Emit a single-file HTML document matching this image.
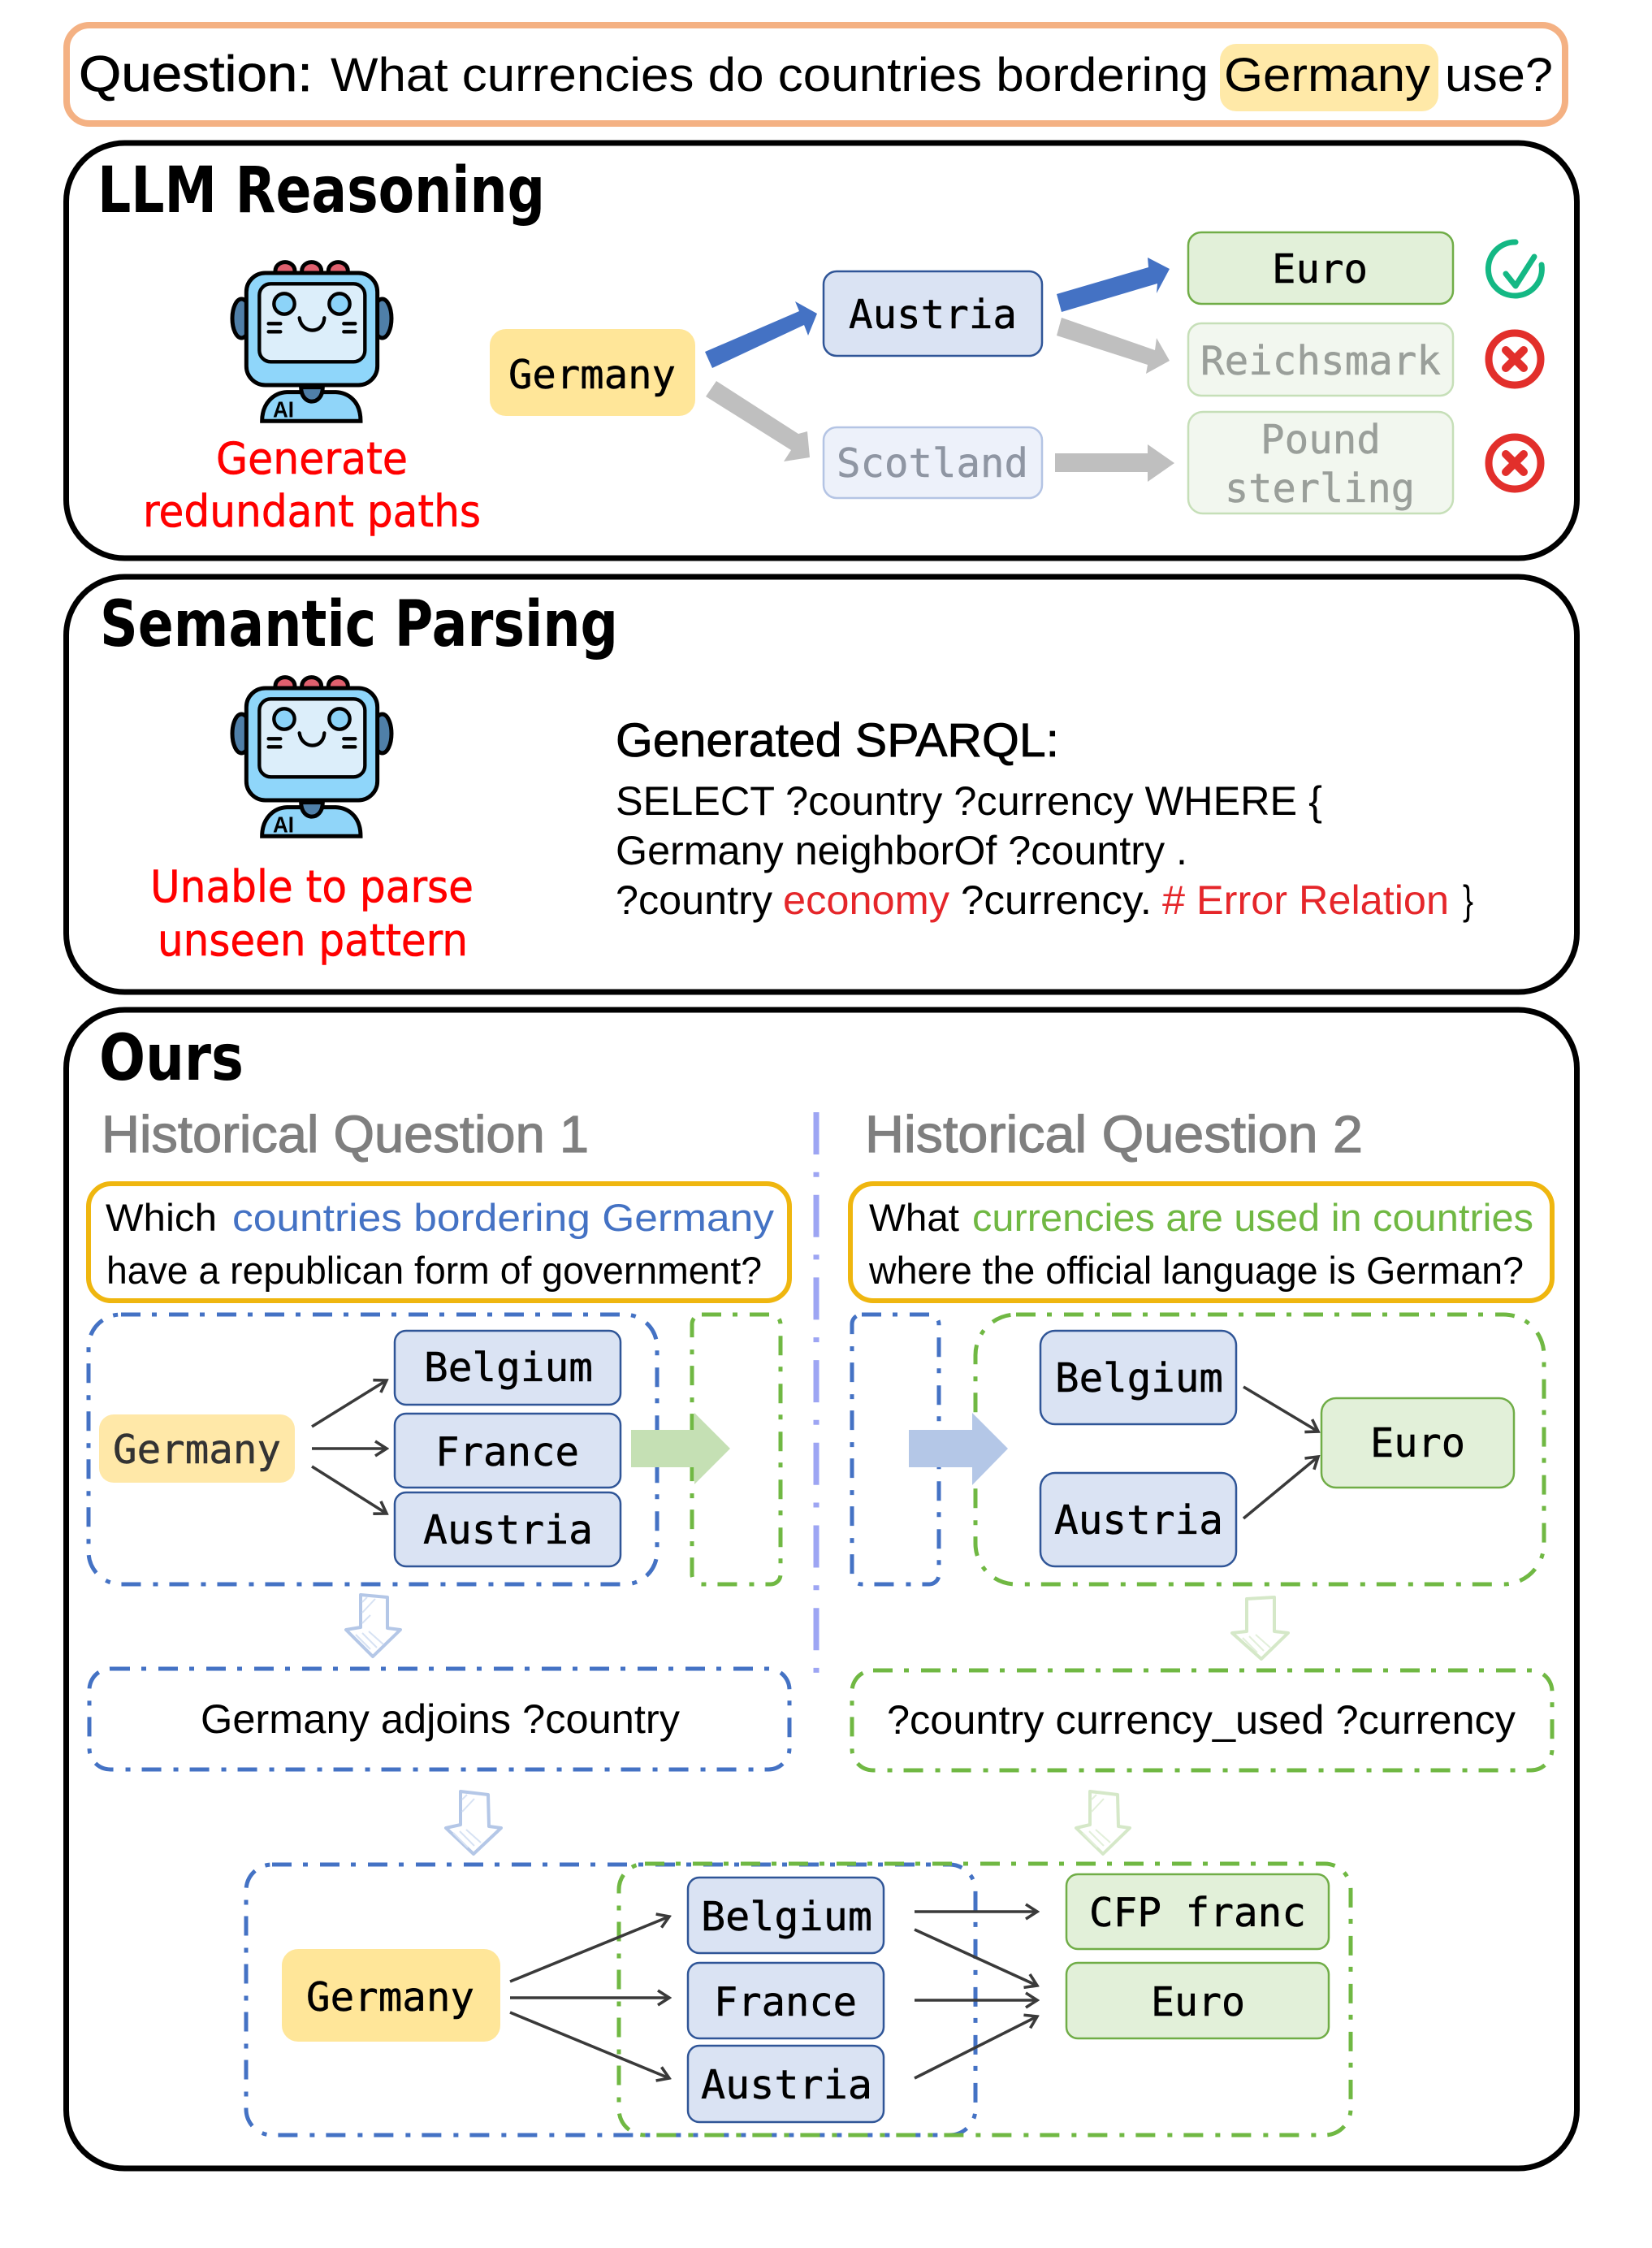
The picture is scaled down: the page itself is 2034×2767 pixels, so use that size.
<!DOCTYPE html>
<html><head><meta charset="utf-8"><style>
html,body{margin:0;padding:0;background:#fff;width:2034px;height:2767px;overflow:hidden}
svg{display:block}
text{font-family:"Liberation Sans",sans-serif}
.m{font-family:"DejaVu Sans Mono","Liberation Mono",monospace;font-size:49px;stroke:currentColor;stroke-width:.5}
.h{font-family:"DejaVu Sans","Liberation Sans",sans-serif;font-weight:bold;font-size:78px}
.r{font-family:"DejaVu Sans","Liberation Sans",sans-serif;font-size:54px;fill:#f00;stroke:#f00;stroke-width:.6}
.gh{font-size:64px;fill:#7f7f7f;stroke:#7f7f7f;stroke-width:1.2}
.blue{fill:#dae3f3;stroke:#2f5597;stroke-width:2.5}
.green{fill:#e2f0d9;stroke:#70ad47;stroke-width:2.5}
.db{fill:none;stroke:#4472c4;stroke-width:5;stroke-dasharray:24 14 6 15}
.dg{fill:none;stroke:#70b843;stroke-width:5;stroke-dasharray:24 14 6 15}
.a{fill:none;stroke:#3a3a3a;stroke-width:3.6;marker-end:url(#ah)}
</style></head><body>
<svg xmlns="http://www.w3.org/2000/svg" width="2034" height="2767" viewBox="0 0 2034 2767">
<defs>
<marker id="ah" markerUnits="userSpaceOnUse" viewBox="0 0 24 24" refX="21" refY="12" markerWidth="24" markerHeight="24" orient="auto"><path d="M7,3 L21,12 L7,21" fill="none" stroke="#3a3a3a" stroke-width="3.6"/></marker>
</defs>

<!-- Question -->
<rect x="82" y="31" width="1845" height="121" rx="28" fill="#fff" stroke="#f4b183" stroke-width="8"/>
<rect x="1502" y="54" width="269" height="83" rx="20" fill="#ffe9a8"/>
<text x="97" y="112" font-size="62" textLength="288" lengthAdjust="spacingAndGlyphs" stroke="#000" stroke-width=".7">Question:</text>
<text x="407" y="112" font-size="58" textLength="1081" lengthAdjust="spacingAndGlyphs">What currencies do countries bordering</text>
<text x="1507" y="112" font-size="58" textLength="254" lengthAdjust="spacingAndGlyphs">Germany</text>
<text x="1779" y="112" font-size="58" textLength="133" lengthAdjust="spacingAndGlyphs">use?</text>

<!-- LLM -->
<rect x="81.5" y="176" width="1860" height="511" rx="72" fill="#fff" stroke="#000" stroke-width="7"/>
<text class="h" x="120" y="261" textLength="551" lengthAdjust="spacingAndGlyphs">LLM Reasoning</text>

<g transform="translate(240,300) scale(.3333)" stroke="#000" stroke-width="15" stroke-linecap="round">
<ellipse cx="172" cy="276" rx="34" ry="72" fill="#4f7fa8"/><ellipse cx="692" cy="276" rx="34" ry="72" fill="#4f7fa8"/>
<ellipse cx="333" cy="100" rx="36" ry="32" fill="#e0606e"/><ellipse cx="431" cy="100" rx="36" ry="32" fill="#e0606e"/><ellipse cx="529" cy="100" rx="36" ry="32" fill="#e0606e"/>
<path d="M248,655 C248,590 290,550 340,548 L520,548 C560,550 612,575 612,655 Z" fill="#90d5f9"/>
<path d="M392,530 C392,600 472,600 472,530 Z" fill="#4f7fa8"/>
<rect x="190" y="108" width="484" height="414" rx="70" fill="#8fd6fa"/>
<rect x="238" y="148" width="390" height="288" rx="42" fill="#dceefa" stroke-width="13"/>
<circle cx="330" cy="222" r="38" fill="#8cd3f8" stroke-width="13"/><circle cx="534" cy="222" r="38" fill="#8cd3f8" stroke-width="13"/>
<path d="M386,274 C395,335 475,335 478,274" fill="none" stroke-width="13"/>
<path d="M272,295H316M272,325H316M550,295H592M550,325H592" fill="none" stroke-width="13"/>
<text x="288" y="640" font-size="84" font-weight="bold" stroke="none" fill="#000" textLength="78" lengthAdjust="spacingAndGlyphs">AI</text>
</g>

<text class="r" x="266" y="583" textLength="236" lengthAdjust="spacingAndGlyphs">Generate</text>
<text class="r" x="176" y="648" textLength="416" lengthAdjust="spacingAndGlyphs">redundant paths</text>

<rect x="603" y="405" width="253" height="107" rx="20" fill="#ffe699"/>
<text class="m" x="626" y="478" textLength="206" lengthAdjust="spacingAndGlyphs">Germany</text>

<polygon points="868,433 984,383 979,371 1006,386 995,413 990,400 877,453" fill="#4472c4"/>
<polygon points="882,469 983,534 994,531 997,563 965,568 974,554 869,488" fill="#bfbfbf"/>
<rect x="1014" y="334" width="269" height="104" rx="16" class="blue"/>
<text class="m" x="1045" y="404" textLength="207" lengthAdjust="spacingAndGlyphs">Austria</text>
<rect x="1014" y="526" width="269" height="87" rx="16" fill="#edf1fa" stroke="#b4c4e4" stroke-width="2.5"/>
<text class="m" x="1030" y="587" textLength="236" lengthAdjust="spacingAndGlyphs" fill="#8f96a3" color="#8f96a3">Scotland</text>

<polygon points="1301,362 1414,329 1413,317 1440,331 1424,361 1425,349 1307,384" fill="#4472c4"/>
<polygon points="1307,391 1422,431 1424,416 1440,444 1411,460 1413,449 1301,413" fill="#bfbfbf"/>
<polygon points="1299,558 1413,558 1413,547 1446,570 1413,593 1413,581 1299,581" fill="#bfbfbf"/>

<rect x="1463" y="286" width="326" height="88" rx="16" class="green"/>
<text class="m" x="1566" y="348" textLength="118" lengthAdjust="spacingAndGlyphs">Euro</text>
<rect x="1463" y="398" width="326" height="89" rx="16" fill="#f2f7ef" stroke="#c6dfb8" stroke-width="2.5"/>
<text class="m" x="1478" y="461" textLength="296" lengthAdjust="spacingAndGlyphs" fill="#9a9f9a" color="#9a9f9a">Reichsmark</text>
<rect x="1463" y="507" width="326" height="125" rx="18" fill="#f2f7ef" stroke="#c6dfb8" stroke-width="2.5"/>
<text class="m" x="1552" y="558" textLength="148" lengthAdjust="spacingAndGlyphs" fill="#9a9f9a" color="#9a9f9a">Pound</text>
<text class="m" x="1508" y="618" textLength="234" lengthAdjust="spacingAndGlyphs" fill="#9a9f9a" color="#9a9f9a">sterling</text>

<g fill="none" stroke-linecap="round" stroke-linejoin="round">
<path d="M1866,298 A33,33 0 1 0 1898,326" stroke="#14b884" stroke-width="7"/>
<path d="M1854,337 L1866,352 L1889,316" stroke="#14b884" stroke-width="7"/>
<circle cx="1865" cy="442" r="32" stroke="#e22f2b" stroke-width="9"/>
<path d="M1854,431 L1876,453 M1876,431 L1854,453" stroke="#e22f2b" stroke-width="10"/>
<circle cx="1865" cy="570" r="32" stroke="#e22f2b" stroke-width="9"/>
<path d="M1854,559 L1876,581 M1876,559 L1854,581" stroke="#e22f2b" stroke-width="10"/>
</g>

<!-- Semantic -->
<rect x="81.5" y="710" width="1860" height="511" rx="72" fill="#fff" stroke="#000" stroke-width="7"/>
<text class="h" x="123" y="795" textLength="638" lengthAdjust="spacingAndGlyphs">Semantic Parsing</text>

<g transform="translate(240,811) scale(.3333)" stroke="#000" stroke-width="15" stroke-linecap="round">
<ellipse cx="172" cy="276" rx="34" ry="72" fill="#4f7fa8"/><ellipse cx="692" cy="276" rx="34" ry="72" fill="#4f7fa8"/>
<ellipse cx="333" cy="100" rx="36" ry="32" fill="#e0606e"/><ellipse cx="431" cy="100" rx="36" ry="32" fill="#e0606e"/><ellipse cx="529" cy="100" rx="36" ry="32" fill="#e0606e"/>
<path d="M248,655 C248,590 290,550 340,548 L520,548 C560,550 612,575 612,655 Z" fill="#90d5f9"/>
<path d="M392,530 C392,600 472,600 472,530 Z" fill="#4f7fa8"/>
<rect x="190" y="108" width="484" height="414" rx="70" fill="#8fd6fa"/>
<rect x="238" y="148" width="390" height="288" rx="42" fill="#dceefa" stroke-width="13"/>
<circle cx="330" cy="222" r="38" fill="#8cd3f8" stroke-width="13"/><circle cx="534" cy="222" r="38" fill="#8cd3f8" stroke-width="13"/>
<path d="M386,274 C395,335 475,335 478,274" fill="none" stroke-width="13"/>
<path d="M272,295H316M272,325H316M550,295H592M550,325H592" fill="none" stroke-width="13"/>
<text x="288" y="640" font-size="84" font-weight="bold" stroke="none" fill="#000" textLength="78" lengthAdjust="spacingAndGlyphs">AI</text>
</g>

<text class="r" x="185" y="1110" textLength="398" lengthAdjust="spacingAndGlyphs">Unable to parse</text>
<text class="r" x="194" y="1176" textLength="382" lengthAdjust="spacingAndGlyphs">unseen pattern</text>

<text x="758" y="931" font-size="58" textLength="546" lengthAdjust="spacingAndGlyphs" stroke="#000" stroke-width=".8">Generated SPARQL:</text>
<text x="758" y="1003" font-size="50" textLength="870" lengthAdjust="spacingAndGlyphs">SELECT ?country ?currency WHERE {</text>
<text x="758" y="1064" font-size="50" textLength="704" lengthAdjust="spacingAndGlyphs">Germany neighborOf ?country .</text>
<text x="758" y="1125" font-size="50" textLength="193" lengthAdjust="spacingAndGlyphs">?country</text>
<text x="964" y="1125" font-size="50" textLength="205" lengthAdjust="spacingAndGlyphs" fill="#e5262a">economy</text>
<text x="1183" y="1125" font-size="50" textLength="235" lengthAdjust="spacingAndGlyphs">?currency.</text>
<text x="1431" y="1125" font-size="50" textLength="353" lengthAdjust="spacingAndGlyphs" fill="#e5262a"># Error Relation</text>
<text x="1801" y="1125" font-size="50" textLength="13" lengthAdjust="spacingAndGlyphs">}</text>

<!-- Ours -->
<rect x="81.5" y="1243" width="1860" height="1426" rx="72" fill="#fff" stroke="#000" stroke-width="7"/>
<text class="h" x="122" y="1329" textLength="178" lengthAdjust="spacingAndGlyphs">Ours</text>
<text class="gh" x="125" y="1418" textLength="600" lengthAdjust="spacingAndGlyphs">Historical Question 1</text>
<text class="gh" x="1065" y="1418" textLength="613" lengthAdjust="spacingAndGlyphs">Historical Question 2</text>
<line x1="1005" y1="1369" x2="1005" y2="2067" stroke="#9da5f3" stroke-width="7" stroke-dasharray="52 21.7 6 22"/>

<rect x="109" y="1457" width="863" height="144" rx="28" fill="#fff" stroke="#efb60f" stroke-width="6"/>
<text x="130" y="1515" font-size="47" textLength="137" lengthAdjust="spacingAndGlyphs">Which</text>
<text x="286" y="1515" font-size="47" textLength="667" lengthAdjust="spacingAndGlyphs" fill="#4472c4">countries bordering Germany</text>
<text x="131" y="1580" font-size="47" textLength="807" lengthAdjust="spacingAndGlyphs">have a republican form of government?</text>

<rect x="1047" y="1457" width="864" height="144" rx="28" fill="#fff" stroke="#efb60f" stroke-width="6"/>
<text x="1070" y="1515" font-size="47" textLength="111" lengthAdjust="spacingAndGlyphs">What</text>
<text x="1197" y="1515" font-size="47" textLength="691" lengthAdjust="spacingAndGlyphs" fill="#70b843">currencies are used in countries</text>
<text x="1070" y="1580" font-size="47" textLength="806" lengthAdjust="spacingAndGlyphs">where the official language is German?</text>

<!-- HQ1 graph -->
<rect x="109" y="1618" width="700" height="332" rx="40" class="db"/>
<rect x="852" y="1618" width="109" height="332" rx="12" class="dg"/>
<polygon points="777,1760 855,1760 855,1739 899,1783 855,1827 855,1806 777,1806" fill="#c5e0b4"/>
<rect x="122" y="1741" width="241" height="84" rx="18" fill="#ffe8a8"/>
<text class="m" x="139" y="1801" textLength="207" lengthAdjust="spacingAndGlyphs" fill="#333" color="#333">Germany</text>
<rect x="486" y="1638" width="278" height="91" rx="14" class="blue"/>
<text class="m" x="522" y="1700" textLength="208" lengthAdjust="spacingAndGlyphs">Belgium</text>
<rect x="486" y="1740" width="278" height="91" rx="14" class="blue"/>
<text class="m" x="536" y="1804" textLength="177" lengthAdjust="spacingAndGlyphs">France</text>
<rect x="486" y="1837" width="278" height="91" rx="14" class="blue"/>
<text class="m" x="521" y="1900" textLength="209" lengthAdjust="spacingAndGlyphs">Austria</text>
<path class="a" d="M384,1756 L476,1699"/>
<path class="a" d="M384,1783 L476,1783"/>
<path class="a" d="M384,1805 L476,1863"/>

<path d="M444,1963 L477,1966 L477,2004 L493,2006 L459,2039 L426,2006 L444,2003 Z" fill="#fff" stroke="#b4c7e7" stroke-width="4" stroke-linejoin="round"/>
<path d="M438,2012 L456,2030 M446,2010 L464,2028 M454,2008 L472,2024 M446,1972 L452,1966 M446,1985 L462,1968 M446,1998 L456,1988" stroke="#d7e2f3" stroke-width="2" fill="none"/>

<!-- HQ2 graph -->
<rect x="1049" y="1618" width="107" height="332" rx="12" class="db"/>
<rect x="1201" y="1618" width="700" height="332" rx="50" class="dg"/>
<polygon points="1119,1760 1197,1760 1197,1739 1241,1783 1197,1828 1197,1806 1119,1806" fill="#b4c7e7"/>
<rect x="1281" y="1638" width="241" height="115" rx="18" class="blue"/>
<text class="m" x="1299" y="1713" textLength="207" lengthAdjust="spacingAndGlyphs">Belgium</text>
<rect x="1281" y="1813" width="241" height="115" rx="18" class="blue"/>
<text class="m" x="1298" y="1888" textLength="208" lengthAdjust="spacingAndGlyphs">Austria</text>
<rect x="1627" y="1721" width="237" height="110" rx="18" class="green"/>
<text class="m" x="1687" y="1793" textLength="117" lengthAdjust="spacingAndGlyphs">Euro</text>
<path class="a" d="M1531,1707 L1623,1762"/>
<path class="a" d="M1531,1869 L1623,1793"/>

<path d="M1535,1968 L1569,1966 L1569,2008 L1586,2010 L1553,2042 L1517,2010 L1535,2008 Z" fill="#fff" stroke="#d5e8c8" stroke-width="4" stroke-linejoin="round"/>
<path d="M1530,2016 L1548,2034 M1538,2014 L1556,2032 M1546,2012 L1564,2028" stroke="#e2efda" stroke-width="2" fill="none"/>

<!-- templates -->
<rect x="110" y="2054" width="862" height="124" rx="26" class="db"/>
<text x="247" y="2133" font-size="50" textLength="590" lengthAdjust="spacingAndGlyphs">Germany adjoins ?country</text>
<rect x="1049" y="2056" width="862" height="123" rx="26" class="dg"/>
<text x="1092" y="2134" font-size="50" textLength="774" lengthAdjust="spacingAndGlyphs">?country currency_used ?currency</text>

<!-- hollow down -->
<path d="M567,2205 L601,2209 L602,2248 L617,2250 L583,2282 L549,2250 L567,2246 Z" fill="#fff" stroke="#b4c7e7" stroke-width="4" stroke-linejoin="round"/>
<path d="M558,2256 L576,2274 M566,2254 L584,2272 M574,2252 L592,2268 M569,2215 L575,2209 M569,2230 L584,2214" stroke="#d7e2f3" stroke-width="2" fill="none"/>
<path d="M1342,2205 L1376,2209 L1377,2248 L1391,2250 L1358,2282 L1325,2250 L1342,2246 Z" fill="#fff" stroke="#d5e8c8" stroke-width="4" stroke-linejoin="round"/>
<path d="M1333,2256 L1351,2274 M1341,2254 L1359,2272 M1349,2252 L1367,2268 M1344,2215 L1350,2209 M1344,2230 L1359,2214" stroke="#e2efda" stroke-width="2" fill="none"/>

<!-- combined -->
<rect x="303" y="2295" width="898" height="333" rx="32" class="db"/>
<rect x="762" y="2294" width="901" height="334" rx="32" class="dg"/>
<rect x="347" y="2399" width="269" height="114" rx="20" fill="#ffe699"/>
<text class="m" x="377" y="2475" textLength="207" lengthAdjust="spacingAndGlyphs">Germany</text>
<rect x="847" y="2311" width="241" height="93" rx="14" class="blue"/>
<text class="m" x="863" y="2376" textLength="211" lengthAdjust="spacingAndGlyphs">Belgium</text>
<rect x="847" y="2416" width="241" height="93" rx="14" class="blue"/>
<text class="m" x="879" y="2481" textLength="176" lengthAdjust="spacingAndGlyphs">France</text>
<rect x="847" y="2518" width="241" height="94" rx="14" class="blue"/>
<text class="m" x="863" y="2583" textLength="211" lengthAdjust="spacingAndGlyphs">Austria</text>
<rect x="1313" y="2307" width="323" height="92" rx="14" class="green"/>
<text class="m" x="1341" y="2371" textLength="267" lengthAdjust="spacingAndGlyphs">CFP franc</text>
<rect x="1313" y="2416" width="323" height="93" rx="14" class="green"/>
<text class="m" x="1417" y="2481" textLength="116" lengthAdjust="spacingAndGlyphs">Euro</text>
<path class="a" d="M628,2439 L824,2359"/>
<path class="a" d="M628,2459 L824,2459"/>
<path class="a" d="M628,2477 L824,2558"/>
<path class="a" d="M1126,2353 L1277,2353"/>
<path class="a" d="M1126,2375 L1277,2444"/>
<path class="a" d="M1126,2462 L1277,2462"/>
<path class="a" d="M1126,2558 L1277,2482"/>
</svg>
</body></html>
